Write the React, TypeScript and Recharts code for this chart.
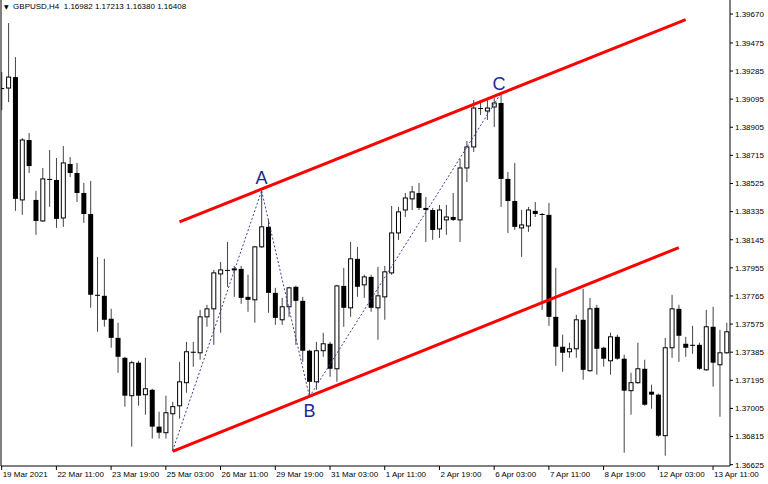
import {Bar, ComposedChart, ReferenceDot, ReferenceLine, XAxis, YAxis} from "recharts";

const opens = [
    1.39170, 1.39170, 1.39244, 1.38414, 1.38819, 1.38414, 1.38272, 1.38556, 1.38549, 1.38292,
    1.38657, 1.38596, 1.38461, 1.38319, 1.37773, 1.37766, 1.37611, 1.37482, 1.37347, 1.37091,
    1.37314, 1.37098, 1.37131, 1.36882, 1.36841, 1.36969, 1.37023, 1.37179, 1.37388, 1.37381,
    1.37624, 1.37678, 1.37914, 1.37941, 1.37941, 1.37948, 1.37759, 1.37739, 1.38097, 1.38232,
    1.37786, 1.37604, 1.37692, 1.37827, 1.37732, 1.37395, 1.37185, 1.37395, 1.37442, 1.37273,
    1.37833, 1.37685, 1.38016, 1.37840, 1.37894, 1.37685, 1.37759, 1.37921, 1.38191, 1.38346,
    1.38421, 1.38461, 1.38360, 1.38346, 1.38218, 1.38279, 1.38299, 1.38279, 1.38630, 1.38772,
    1.39035, 1.39015, 1.39042, 1.39069, 1.38556, 1.38407, 1.38225, 1.38238, 1.38340, 1.38319,
    1.38313, 1.37624, 1.37422, 1.37388, 1.37408, 1.37604, 1.37260, 1.37685, 1.37415, 1.37327,
    1.37489, 1.37341, 1.37125, 1.37179, 1.37273, 1.37118, 1.37098, 1.36821, 1.37415, 1.37678,
    1.37442, 1.37435, 1.37435, 1.37266, 1.37557, 1.37300, 1.37381,
];
const highs = [
    1.39278, 1.39609, 1.39379, 1.38832, 1.38866, 1.38475, 1.38630, 1.38751, 1.38697, 1.38778,
    1.38704, 1.38664, 1.38529, 1.38542, 1.38029, 1.38016, 1.37678, 1.37584, 1.37354, 1.37327,
    1.37327, 1.37347, 1.37138, 1.36983, 1.37091, 1.37050, 1.37320, 1.37455, 1.37455, 1.37671,
    1.37705, 1.37941, 1.37995, 1.38130, 1.37968, 1.37968, 1.37908, 1.38103, 1.38475, 1.38279,
    1.37820, 1.37752, 1.37827, 1.37834, 1.37759, 1.37401, 1.37455, 1.37516, 1.37455, 1.37840,
    1.37955, 1.38130, 1.38097, 1.37908, 1.37908, 1.37962, 1.37968, 1.38373, 1.38367, 1.38461,
    1.38508, 1.38529, 1.38434, 1.38360, 1.38380, 1.38380, 1.38461, 1.38690, 1.38812, 1.39089,
    1.39075, 1.39089, 1.39102, 1.39136, 1.38603, 1.38664, 1.38346, 1.38367, 1.38400, 1.38326,
    1.38394, 1.37955, 1.37503, 1.37449, 1.37638, 1.37813, 1.37752, 1.37705, 1.37422, 1.37516,
    1.37503, 1.37368, 1.37246, 1.37449, 1.37334, 1.37165, 1.37105, 1.37482, 1.37773, 1.37705,
    1.37489, 1.37563, 1.37449, 1.37671, 1.37692, 1.37536, 1.37584,
];
const lows = [
    1.39021, 1.39075, 1.38340, 1.38313, 1.38596, 1.38178, 1.38265, 1.38367, 1.38225, 1.38232,
    1.38569, 1.38400, 1.38259, 1.37685, 1.37523, 1.37557, 1.37415, 1.37246, 1.37017, 1.36747,
    1.37023, 1.36963, 1.36801, 1.36801, 1.36801, 1.36720, 1.36936, 1.37111, 1.37287, 1.37334,
    1.37557, 1.37435, 1.37516, 1.37827, 1.37759, 1.37712, 1.37658, 1.37584, 1.38090, 1.37651,
    1.37570, 1.37570, 1.37624, 1.37435, 1.37320, 1.37084, 1.37131, 1.37354, 1.37219, 1.37185,
    1.37557, 1.37624, 1.37759, 1.37752, 1.37658, 1.37469, 1.37604, 1.37908, 1.38144, 1.38299,
    1.38346, 1.38346, 1.38130, 1.38144, 1.38157, 1.38178, 1.38272, 1.38130, 1.38535, 1.38738,
    1.38988, 1.38954, 1.38907, 1.38367, 1.38191, 1.38211, 1.38029, 1.38198, 1.38299, 1.37671,
    1.37563, 1.37293, 1.37253, 1.37347, 1.37347, 1.37199, 1.37253, 1.37233, 1.37287, 1.37233,
    1.37334, 1.36706, 1.36963, 1.37172, 1.37023, 1.37003, 1.36814, 1.36686, 1.37347, 1.37320,
    1.37354, 1.37374, 1.37266, 1.37259, 1.37152, 1.36949, 1.37374,
];
const closes = [
    1.39163, 1.39244, 1.38421, 1.38819, 1.38643, 1.38272, 1.38556, 1.38549, 1.38286, 1.38664,
    1.38596, 1.38461, 1.38319, 1.37773, 1.37766, 1.37604, 1.37482, 1.37354, 1.37091, 1.37314,
    1.37091, 1.37138, 1.36882, 1.36841, 1.36976, 1.37017, 1.37185, 1.37388, 1.37381, 1.37624,
    1.37678, 1.37921, 1.37941, 1.37941, 1.37948, 1.37752, 1.37739, 1.38097, 1.38232, 1.37786,
    1.37617, 1.37692, 1.37820, 1.37732, 1.37395, 1.37185, 1.37395, 1.37442, 1.37273, 1.37833,
    1.37685, 1.38016, 1.37827, 1.37894, 1.37685, 1.37766, 1.37928, 1.38191, 1.38333, 1.38427,
    1.38468, 1.38360, 1.38346, 1.38211, 1.38346, 1.38299, 1.38279, 1.38630, 1.38772, 1.39035,
    1.39028, 1.39035, 1.39069, 1.38556, 1.38407, 1.38232, 1.38245, 1.38346, 1.38319, 1.38313,
    1.37624, 1.37422, 1.37381, 1.37408, 1.37604, 1.37266, 1.37678, 1.37408, 1.37341, 1.37489,
    1.37341, 1.37125, 1.37179, 1.37273, 1.37030, 1.37098, 1.36821, 1.37415, 1.37678, 1.37496,
    1.37415, 1.37428, 1.37273, 1.37557, 1.37314, 1.37381, 1.37523,
];

const timeLabels = [
    "19 Mar 2021", "22 Mar 11:00", "23 Mar 19:00", "25 Mar 03:00", "26 Mar 11:00", "29 Mar 19:00",
    "31 Mar 03:00", "1 Apr 11:00", "2 Apr 19:00", "6 Apr 03:00", "7 Apr 11:00", "8 Apr 19:00",
    "12 Apr 03:00", "13 Apr 11:00",
];
const priceTicks = [
    1.36625, 1.36815, 1.37005, 1.37195, 1.37385, 1.37575, 1.37765, 1.37955, 1.38145,
    1.38335, 1.38525, 1.38715, 1.38905, 1.39095, 1.39285, 1.39475, 1.39670,
];

// channel lines: [bar index, price]
const upperChannel = [[26.0, 1.38265], [100.0, 1.39632]];
const lowerChannel = [[25.0, 1.36715], [99.0, 1.38092]];
// zigzag start -> A -> B -> C
const zigzag = [[25, 1.36720], [38, 1.38475], [45, 1.37084], [73, 1.39136]];
const pointNames = ["", "A", "B", "C"];

const candles = opens.map((o, i) => ({i, open: o, high: highs[i], low: lows[i], close: closes[i]}));
const xTicks = timeLabels.map((_, k) => k * 8);

const FONT = "'Liberation Sans', Arial, sans-serif";

const Candle = (props: any) => {
    const {x, y, width, height, payload} = props;
    const {open, high, low, close} = payload;
    const top = Math.min(y, y + height);
    const h = Math.abs(height);
    const k = h / (high - low);
    const cx = x + width / 2;
    const bodyTop = top + (high - Math.max(open, close)) * k;
    const bodyH = Math.max(Math.abs(open - close) * k, 1);
    const bull = close > open;
    return (
        <g>
            <line x1={cx} x2={cx} y1={top} y2={top + h} stroke="#444" strokeWidth={1}/>
            {bull ? (
                <rect x={cx - 2} y={bodyTop} width={4} height={bodyH} fill="#fff" stroke="#000" strokeWidth={1}/>
            ) : (
                <rect x={cx - 2.5} y={bodyTop} width={5} height={bodyH} fill="#000"/>
            )}
        </g>
    );
};

const XTick = (props: any) => {
    const {x, y, payload} = props;
    return (
        <text x={x + 1} y={y} dy="0.71em" fontSize={8} fontFamily={FONT} fill="#000">
            {timeLabels[Math.round(payload.value / 8)]}
        </text>
    );
};

const letterShape = (name: string, dx: number, dy: number) => (p: any) => (
    <text x={p.cx + dx} y={p.cy + dy} textAnchor="middle" fontSize={18} fontFamily={FONT} fill="#1b2a8c">
        {name}
    </text>
);

const letterOffsets: Record<string, [number, number]> = {A: [0, -7], B: [0, 20], C: [-2, -3]};

export default function App() {
    return (
        <div style={{position: "absolute", left: 0, top: 0, width: 768, height: 484, background: "#fff"}}>
            <ComposedChart width={768} height={484} data={candles} margin={{top: 0, right: 0, bottom: 0, left: 1}}>
                <XAxis type="number" dataKey="i" domain={[-0.1, 106.48]} allowDataOverflow ticks={xTicks}
                       interval={0} height={18} tickSize={4} tickMargin={1} tick={XTick}
                       axisLine={{stroke: "#000"}} tickLine={{stroke: "#000"}}/>
                <YAxis orientation="right" type="number" domain={[1.36616, 1.39765]} allowDataOverflow
                       ticks={priceTicks} interval={0} width={38} tickSize={3} tickMargin={2}
                       tickFormatter={(v: number) => v.toFixed(5)}
                       tick={{fontSize: 8, fill: "#000", fontFamily: FONT}}
                       axisLine={{stroke: "#000"}} tickLine={{stroke: "#000"}}/>
                <ReferenceLine x={-0.1} stroke="#000"/>
                <Bar dataKey={(d: any) => [d.low, d.high]} shape={Candle} barSize={5} isAnimationActive={false}/>
                {zigzag.slice(1).map((p, k) => (
                    <ReferenceLine key={`zz-${k}`} stroke="#3a3f9c" strokeWidth={1} strokeDasharray="2 2"
                                   segment={[{x: zigzag[k][0], y: zigzag[k][1]}, {x: p[0], y: p[1]}]}/>
                ))}
                <ReferenceLine stroke="#ff0000" strokeWidth={3}
                               segment={[{x: upperChannel[0][0], y: upperChannel[0][1]}, {x: upperChannel[1][0], y: upperChannel[1][1]}]}/>
                <ReferenceLine stroke="#ff0000" strokeWidth={3}
                               segment={[{x: lowerChannel[0][0], y: lowerChannel[0][1]}, {x: lowerChannel[1][0], y: lowerChannel[1][1]}]}/>
                {zigzag.slice(1).map((p, k) => {
                    const name = pointNames[k + 1];
                    const [dx, dy] = letterOffsets[name];
                    return <ReferenceDot key={name} x={p[0]} y={p[1]} r={0} shape={letterShape(name, dx, dy)}/>;
                })}
            </ComposedChart>
            <div style={{position: "absolute", left: 4, top: 3, fontSize: 8, lineHeight: "8px", fontFamily: FONT, color: "#000", whiteSpace: "pre"}}>
                <span style={{fontFamily: "'DejaVu Sans'", fontSize: 6}}>▼</span>
                {"  GBPUSD,H4  1.16982 1.17213 1.16380 1.16408"}
            </div>
        </div>
    );
}
